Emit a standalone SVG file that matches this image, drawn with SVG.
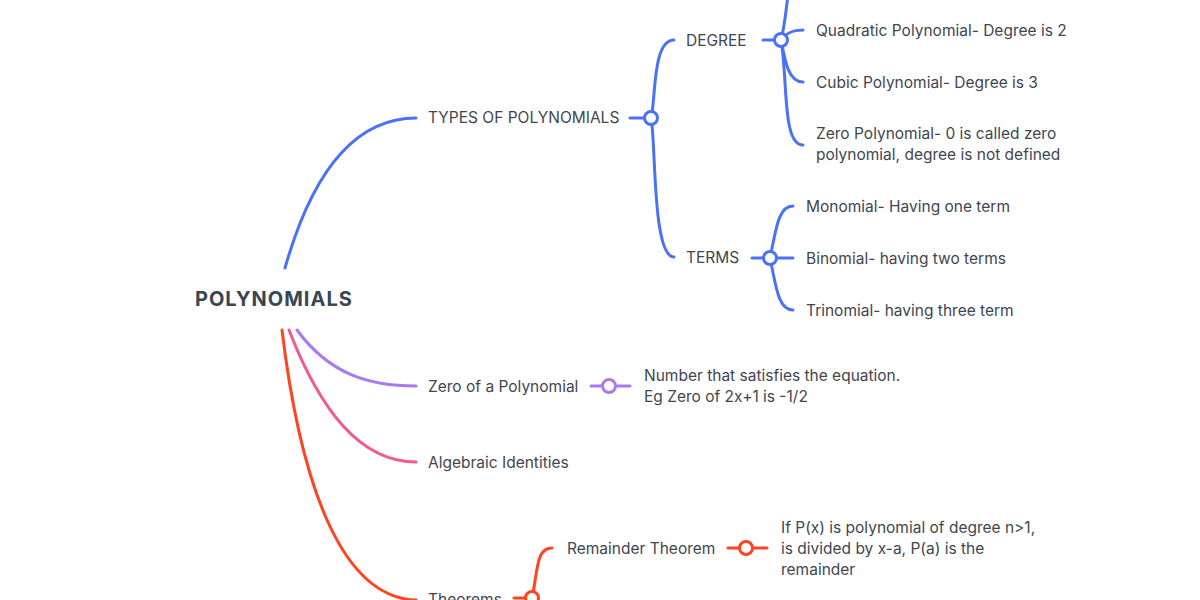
<svg xmlns="http://www.w3.org/2000/svg" width="1200" height="600" viewBox="0 0 1200 600">
<style>
text{font-family:Inter,"Noto Sans","Liberation Sans",sans-serif;font-size:15.5px;fill:#3f4650}
.root{font-size:20px;font-weight:700;fill:#3a4652;letter-spacing:1px}
.c{fill:none;stroke-width:3;stroke-linecap:round}
.b{stroke:#4a72f5}.p{stroke:#a87af0}.k{stroke:#f05a8c}.r{stroke:#ff4520}
.dot{fill:#fff;stroke-width:3}
</style>
<rect width="1200" height="600" fill="#fff"/>
<g id="connectors">
<path class="c b" d="M285,268 C310,180 350,118 416,118"/>
<path class="c b" d="M630,118 H645"/>
<path class="c b" d="M651,118 C656,100 652,40 674,40"/>
<path class="c b" d="M651,118 C656,140 652,257 674,257"/>
<path class="c b" d="M763,40 H775"/>
<path class="c b" d="M781,40 C786,20 786,5 789,-10"/>
<path class="c b" d="M781,40 C786,33 792,30 803,30"/>
<path class="c b" d="M781,40 C785,60 788,82 803,82"/>
<path class="c b" d="M781,40 C788,80 782,145 803,145"/>
<path class="c b" d="M752,258 H764"/>
<path class="c b" d="M770,258 C776,230 778,206 793,206"/>
<path class="c b" d="M770,258 H793"/>
<path class="c b" d="M770,258 C776,286 778,310 793,310"/>
<path class="c p" d="M297,330 C330,375 370,386 416,386"/>
<path class="c p" d="M591,386 H630"/>
<path class="c k" d="M289,330 C320,410 360,462 416,462"/>
<path class="c r" d="M282,330 C300,480 340,598 416,600"/>
<path class="c r" d="M514,598 H526"/>
<path class="c r" d="M532,598 C538,570 536,548 552,548"/>
<path class="c r" d="M728,548 H767"/>
</g>
<g id="root"><text class="root" x="195" y="306">POLYNOMIALS</text></g>
<g id="types"><text x="428" y="123">TYPES OF POLYNOMIALS</text><circle class="dot b" cx="651" cy="118" r="6.5"/></g>
<g id="degree"><text x="686" y="46">DEGREE</text><circle class="dot b" cx="781" cy="40" r="6.5"/></g>
<g id="quadratic"><text x="816" y="36">Quadratic Polynomial- Degree is 2</text></g>
<g id="cubic"><text x="816" y="88">Cubic Polynomial- Degree is 3</text></g>
<g id="zeropoly"><text x="816" y="139">Zero Polynomial- 0 is called zero</text><text x="816" y="160">polynomial, degree is not defined</text></g>
<g id="terms"><text x="686" y="263">TERMS</text><circle class="dot b" cx="770" cy="258" r="6.5"/></g>
<g id="monomial"><text x="806" y="212">Monomial- Having one term</text></g>
<g id="binomial"><text x="806" y="264">Binomial- having two terms</text></g>
<g id="trinomial"><text x="806" y="316">Trinomial- having three term</text></g>
<g id="zero"><text x="428" y="392">Zero of a Polynomial</text><circle class="dot p" cx="609" cy="386" r="6.5"/></g>
<g id="zerodesc"><text x="644" y="381">Number that satisfies the equation.</text><text x="644" y="402">Eg Zero of 2x+1 is -1/2</text></g>
<g id="identities"><text x="428" y="468">Algebraic Identities</text></g>
<g id="theorems"><text x="428" y="605">Theorems</text><circle class="dot r" cx="532" cy="598" r="6.5"/></g>
<g id="remainder"><text x="567" y="554">Remainder Theorem</text><circle class="dot r" cx="746" cy="548" r="6.5"/></g>
<g id="remdesc"><text x="781" y="533">If P(x) is polynomial of degree n&gt;1,</text><text x="781" y="554">is divided by x-a, P(a) is the</text><text x="781" y="575">remainder</text></g>
</svg>
